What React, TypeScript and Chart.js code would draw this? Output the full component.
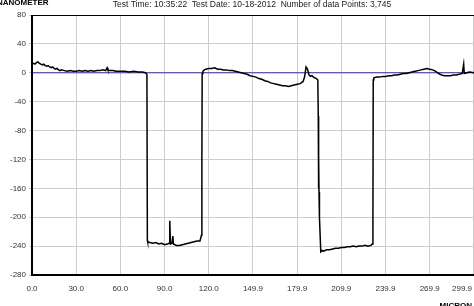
import React, { useEffect, useRef } from 'react';
import { Chart, registerables } from 'chart.js';
Chart.register(...registerables);

const xMicron = [
  0, 1, 2, 3, 4, 5, 6, 7, 8, 9, 10, 11, 12, 13, 14, 15, 16, 17, 18, 19, 20, 22, 24, 26, 28, 30, 32, 34, 36, 38, 40, 42, 44, 46, 48, 50, 51, 51.5, 53, 55, 57, 60, 63, 66, 69, 72, 75, 77, 78,
  78.3, 78.5, 80, 82, 84, 86, 88, 90, 92, 93, 93.5, 94, 95, 95.6, 96, 98, 100, 102, 104, 106, 108, 110, 112, 114, 115, 115.3,
  115.5, 116, 117, 118, 120, 122, 124, 126, 128, 130, 132, 134, 136, 138, 140, 142, 144, 146, 148, 150, 152, 154, 156, 158, 160, 162, 164, 166, 168, 170, 172, 174, 176, 178, 180, 182, 184, 185, 186, 187, 188, 189, 190, 191, 192, 193, 194,
  194.3, 194.4, 194.5, 194.7, 194.8, 195, 195.2, 196, 197, 198, 200, 202, 204, 206, 208, 210, 212, 214, 216, 218, 220, 222, 224, 226, 228, 230, 231, 231.4,
  231.6, 232, 234, 236, 238, 240, 242, 244, 246, 248, 250, 252, 254, 256, 258, 260, 262, 264, 266, 268, 270, 272, 274, 276, 278, 280, 282, 284, 286, 288, 290, 292, 293, 293.4, 295, 297, 299.9,
];
const yNanometer = [
  12, 13, 12, 14, 15, 13, 12, 11, 12, 10, 9, 10, 8, 7, 8, 6, 5, 6, 4, 3, 4, 3, 2, 3, 2, 2, 3, 2, 3, 2, 3, 2, 3, 3, 4, 3, 7, 4, 3, 3, 2, 2, 2, 1, 2, 1, 1, 0, -2,
  -232, -234, -235, -236, -235, -237, -236, -238, -237, -236, -205, -237, -236, -226, -237, -239, -239, -238, -237, -236, -235, -234, -233, -233, -225, -120,
  -1, 2, 4, 5, 6, 6, 7, 5, 5, 4, 4, 3, 3, 2, 1, 0, -1, -2, -4, -5, -6, -8, -9, -11, -12, -14, -15, -16, -17, -18, -18, -19, -18, -17, -16, -15, -12, -6, 8, 5, -3, -5, -4, -6, -7, -8, -10,
  -60, -112, -160, -115, -165, -170, -200, -248, -246, -247, -245, -245, -244, -243, -243, -242, -242, -241, -241, -240, -241, -240, -240, -239, -240, -239, -237, -200,
  -10, -7, -6, -6, -5, -5, -4, -4, -3, -3, -2, -1, -1, 0, 1, 2, 3, 4, 5, 6, 5, 4, 2, -1, -3, -4, -4, -4, -3, -3, -2, -1, 12, -1, 0, 1, 0,
];
const xTickValues = [0, 29.99, 59.98, 89.97, 119.96, 149.95, 179.94, 209.93, 239.92, 269.91, 299.9];
const xTickLabels = ['0.0', '30.0', '60.0', '90.0', '120.0', '149.9', '179.9', '209.9', '239.9', '269.9', '299.9'];
const titleText = 'Test Time: 10:35:22  Test Date: 10-18-2012  Number of data Points: 3,745';
const yAxisTitle = 'NANOMETER';
const xAxisTitle = 'MICRON';
const zeroLine = [0, 300];

export default function App() {
  const ref = useRef<HTMLCanvasElement>(null);
  useEffect(() => {
    if (!ref.current) return;
    const decor = {
      id: 'decor',
      afterDatasetsDraw(chart: any) {
        const { ctx, chartArea } = chart;
        const xs = chart.scales.x;
        ctx.save();
        ctx.strokeStyle = '#000';
        ctx.lineWidth = 2;
        ctx.beginPath();
        ctx.moveTo(chartArea.left, chartArea.top);
        ctx.lineTo(chartArea.left, chartArea.bottom);
        ctx.lineTo(chartArea.right, chartArea.bottom);
        ctx.stroke();
        ctx.lineWidth = 1;
        ctx.beginPath();
        ctx.moveTo(chartArea.left, chartArea.top + 0.5);
        ctx.lineTo(chartArea.right, chartArea.top + 0.5);
        ctx.stroke();
        ctx.fillStyle = '#333';
        ctx.font = '8px "Liberation Sans"';
        ctx.textBaseline = 'middle';
        xTickValues.forEach((v, i) => {
          const px = xs.getPixelForValue(v);
          if (i === xTickValues.length - 1) {
            ctx.textAlign = 'right';
            ctx.fillText(xTickLabels[i], 472, 288.5);
          } else {
            ctx.textAlign = 'center';
            ctx.fillText(xTickLabels[i], px, 288.5);
          }
        });
        ctx.fillStyle = '#222';
        ctx.font = '8.5px "Liberation Sans"';
        ctx.textAlign = 'center';
        ctx.textBaseline = 'alphabetic';
        ctx.fillText(titleText, 252, 6.5);
        ctx.fillStyle = '#000';
        ctx.font = 'bold 8px "Liberation Sans"';
        ctx.textAlign = 'left';
        ctx.fillText(yAxisTitle, -3, 5);
        ctx.textAlign = 'right';
        ctx.fillText(xAxisTitle, 472, 308);
        ctx.restore();
      },
    };
    const chart = new Chart(ref.current, {
      type: 'line',
      data: {
        datasets: [
          {
            data: xMicron.map((x, i) => ({ x, y: yNanometer[i] })),
            borderColor: '#000',
            borderWidth: 1.5,
            pointRadius: 0,
            tension: 0,
            order: 1,
          },
          {
            data: zeroLine.map((x) => ({ x, y: 0 })),
            borderColor: '#3030c8',
            borderWidth: 1,
            pointRadius: 0,
            order: 2,
          },
        ],
      },
      options: {
        animation: false,
        responsive: false,
        maintainAspectRatio: false,
        layout: { padding: { top: 15, left: 0, right: 0, bottom: 0 }, autoPadding: false },
        plugins: { legend: { display: false }, tooltip: { enabled: false }, title: { display: false } },
        scales: {
          x: {
            type: 'linear',
            min: 0,
            max: 300,
            afterBuildTicks: (s: any) => {
              s.ticks = xTickValues.map((value) => ({ value }));
            },
            afterFit: (s: any) => {
              s.height = 31;
            },
            grid: { color: '#cccccc', lineWidth: 1, tickLength: 3, drawTicks: false },
            border: { display: false },
            ticks: { display: false },
          },
          y: {
            min: -280,
            max: 80,
            afterFit: (s: any) => {
              s.width = 32;
            },
            grid: { color: '#cccccc', lineWidth: 1, tickLength: 3 },
            border: { display: false },
            ticks: { stepSize: 40, color: '#333', font: { size: 8, family: 'Liberation Sans' }, padding: 3 },
          },
        },
      },
      plugins: [decor],
    });
    return () => chart.destroy();
  }, []);
  return (
    <div style={{ position: 'absolute', left: 0, top: 0, width: 474, height: 306, background: '#fff' }}>
      <canvas ref={ref} width={474} height={306} style={{ width: 474, height: 306 }} />
    </div>
  );
}
